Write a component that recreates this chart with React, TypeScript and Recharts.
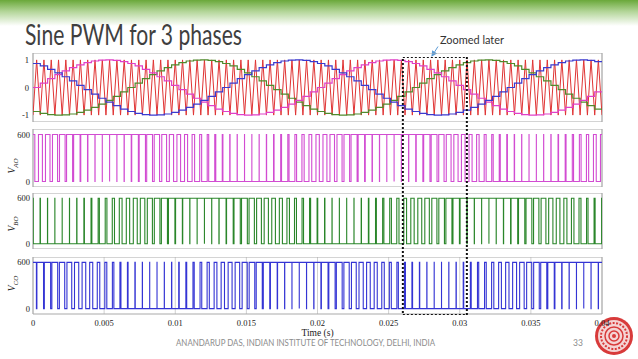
import React from 'react';
import { LineChart, Line, XAxis, YAxis, CartesianGrid, ReferenceArea } from 'recharts';

// ---- data ----
const timeTicks = [0, 0.005, 0.01, 0.015, 0.02, 0.025, 0.03, 0.035, 0.04];
const timeTickLabels = ['0', '0.005', '0.01', '0.015', '0.02', '0.025', '0.03', '0.035', '0.04'];
const refTicks = [-1, 0, 1];
const refTickLabels = ['-1', '0', '1'];
const voltTicks = [0, 600];
const voltTickLabels = ['0', '600'];

const fundamentalPeriod = 0.02; // s
const displayedCycles = 2;
const carrierRatio = 39; // carrier periods per fundamental period
const dcLink = 600;
const zoomWindow = [0.026, 0.0305];

// sampled (staircase) references, one value per carrier period, one fundamental cycle
const phaseASamples = [0.0, 0.16, 0.32, 0.47, 0.6, 0.72, 0.82, 0.9, 0.96, 0.99, 1.0, 0.98, 0.94, 0.87, 0.78, 0.66, 0.53, 0.39, 0.24, 0.08, -0.08, -0.24, -0.39, -0.53, -0.66, -0.78, -0.87, -0.94, -0.98, -1.0, -0.99, -0.96, -0.9, -0.82, -0.72, -0.6, -0.47, -0.32, -0.16];
const phaseBSamples = [-0.87, -0.94, -0.98, -1.0, -0.99, -0.96, -0.9, -0.82, -0.72, -0.6, -0.47, -0.32, -0.16, 0.0, 0.16, 0.32, 0.47, 0.6, 0.72, 0.82, 0.9, 0.96, 0.99, 1.0, 0.98, 0.94, 0.87, 0.78, 0.66, 0.53, 0.39, 0.24, 0.08, -0.08, -0.24, -0.39, -0.53, -0.66, -0.78];
const phaseCSamples = [0.87, 0.78, 0.66, 0.53, 0.39, 0.24, 0.08, -0.08, -0.24, -0.39, -0.53, -0.66, -0.78, -0.87, -0.94, -0.98, -1.0, -0.99, -0.96, -0.9, -0.82, -0.72, -0.6, -0.47, -0.32, -0.16, 0.0, 0.16, 0.32, 0.47, 0.6, 0.72, 0.82, 0.9, 0.96, 0.99, 1.0, 0.98, 0.94];

// ---- tables built from the arrays ----
const Tc = fundamentalPeriod / carrierRatio;
const nPeriods = carrierRatio * displayedCycles;

const carrierData = Array.from({ length: 2 * nPeriods + 1 }, (_, j) => ({ t: (j * Tc) / 2, v: j % 2 === 0 ? -1 : 1 }));

const stairData = (s: number[]) => {
  const out = [] as { t: number; v: number }[];
  for (let k = 0; k < nPeriods; k++) out.push({ t: k * Tc, v: s[k % s.length] });
  out.push({ t: nPeriods * Tc, v: s[(nPeriods - 1) % s.length] });
  return out;
};

const pwmData = (s: number[]) => {
  const out = [] as { t: number; v: number }[];
  for (let k = 0; k < nPeriods; k++) {
    const m = s[k % s.length];
    const a = ((m + 1) / 4) * Tc;
    const t0 = k * Tc;
    out.push({ t: t0, v: dcLink });
    out.push({ t: t0 + a, v: dcLink });
    out.push({ t: t0 + a, v: 0 });
    out.push({ t: t0 + Tc - a, v: 0 });
    out.push({ t: t0 + Tc - a, v: dcLink });
  }
  out.push({ t: nPeriods * Tc, v: dcLink });
  return out;
};

const refA = stairData(phaseASamples);
const refB = stairData(phaseBSamples);
const refC = stairData(phaseCSamples);
const vAO = pwmData(phaseASamples);
const vBO = pwmData(phaseBSamples);
const vCO = pwmData(phaseCSamples);
const frameData = [{ t: 0, v: 0 }, { t: 0.04, v: 1 }];

const W = 638;
const MARGIN = { top: 0, right: 36, bottom: 0, left: 0 };
const serif = '"Liberation Serif", "DejaVu Serif", serif';
const tickStyle = { fontSize: 8.5, fontFamily: serif, fill: '#222' };
const gridColor = '#c4c4c4';
const frameColor = '#a9a9a9';

const fmtTime = (v: number) => timeTickLabels[timeTicks.indexOf(v)] ?? String(v);
const fmtRef = (v: number) => refTickLabels[refTicks.indexOf(v)] ?? String(v);
const fmtVolt = (v: number) => voltTickLabels[voltTicks.indexOf(v)] ?? String(v);

const makeYLabel = (sub: string, centerOffset: number) => (props: any) => {
  const vb = props.viewBox || { x: 0, y: 0, width: 0, height: 0 };
  const bx = 15;
  const by = vb.y + vb.height / 2 + centerOffset;
  return (
    <text transform={`translate(${bx},${by}) rotate(-90)`} textAnchor="middle" fontFamily={serif} fontStyle="italic" fill="#222">
      <tspan fontSize={9.5}>V</tspan>
      <tspan fontSize={7} dy={3}>{sub}</tspan>
    </text>
  );
};

function PwmPanel({ data, color, sub, top, plotH, labelOffset, showX }: any) {
  const xH = showX ? 34 : 0;
  const h = plotH + xH;
  const dom = [-70, 670];
  return (
    <div style={{ position: 'absolute', left: 0, top }}>
      <LineChart width={W} height={h} data={data} margin={MARGIN}>
        <CartesianGrid stroke={gridColor} strokeWidth={0.8} horizontal={false} />
        <ReferenceArea x1={0} x2={0.04} y1={dom[0]} y2={dom[1]} fill="none" stroke={frameColor} strokeWidth={1} />
        <XAxis
          dataKey="t"
          type="number"
          domain={[0, 0.04]}
          ticks={timeTicks}
          allowDataOverflow
          tickFormatter={fmtTime}
          tick={showX ? tickStyle : false}
          tickLine={false}
          axisLine={false}
          tickSize={0}
          tickMargin={6}
          height={xH}
          label={showX ? { value: 'Time (s)', position: 'insideBottom', offset: 12, style: { fontFamily: serif, fontSize: 9.5, fill: '#222' } } : undefined}
        />
        <YAxis
          type="number"
          domain={dom}
          ticks={voltTicks}
          tickFormatter={fmtVolt}
          tick={tickStyle}
          tickLine={false}
          axisLine={false}
          tickSize={0}
          tickMargin={3}
          width={33}
          allowDataOverflow
          label={makeYLabel(sub, labelOffset)}
        />
        <Line dataKey="v" type="linear" stroke={color} strokeWidth={1.1} dot={false} isAnimationActive={false} />
      </LineChart>
    </div>
  );
}

export default function App() {
  return (
    <div style={{ position: 'absolute', left: 0, top: 0, width: W, height: 359, background: '#fff', overflow: 'hidden' }}>
      <svg width={W} height={359} style={{ position: 'absolute', left: 0, top: 0 }}>
        <defs>
          <linearGradient id="band" x1="0" y1="0" x2="0" y2="1">
            <stop offset="0" stopColor="#6aa83a" />
            <stop offset="0.45" stopColor="#b4d69a" />
            <stop offset="1" stopColor="#ffffff" />
          </linearGradient>
          <marker id="arr" markerWidth="6" markerHeight="6" refX="5" refY="3" orient="auto">
            <path d="M0,0 L6,3 L0,6 z" fill="#5b9bd5" />
          </marker>
        </defs>
        <rect x={0} y={0} width={W} height={26} fill="url(#band)" />
        <text x={25} y={45} fontFamily="Lato, 'Open Sans', sans-serif" fontSize={28} fill="#3f3f3f" textLength={217} lengthAdjust="spacingAndGlyphs">
          Sine PWM for 3 phases
        </text>
        <text x={440} y={44} fontFamily="Lato, 'Open Sans', sans-serif" fontSize={11.5} fill="#333" textLength={64} lengthAdjust="spacingAndGlyphs">
          Zoomed later
        </text>
        <line x1={438} y1={46.5} x2={432} y2={56} stroke="#5b9bd5" strokeWidth={1} markerEnd="url(#arr)" />
        <text x={176} y={346} fontFamily="Lato, 'Open Sans', sans-serif" fontSize={8.5} fill="#8c8c8c" textLength={259} lengthAdjust="spacingAndGlyphs">
          ANANDARUP DAS, INDIAN INSTITUTE OF TECHNOLOGY, DELHI, INDIA
        </text>
        <text x={573} y={346} fontFamily="Lato, 'Open Sans', sans-serif" fontSize={8.5} fill="#8c8c8c">
          33
        </text>
        <g>
          <circle cx={614} cy={336} r={19} fill="#d83a3a" />
          <circle cx={614} cy={336} r={16} fill="#f4d4d4" />
          <circle cx={614} cy={336} r={13} fill="none" stroke="#d83a3a" strokeWidth={2} strokeDasharray="2 1.5" />
          <circle cx={614} cy={336} r={9} fill="none" stroke="#d83a3a" strokeWidth={1.5} />
          <circle cx={614} cy={336} r={5} fill="none" stroke="#d83a3a" strokeWidth={1.5} />
          <circle cx={614} cy={336} r={2} fill="#d83a3a" />
        </g>
      </svg>

      {/* reference / carrier panel */}
      <div style={{ position: 'absolute', left: 0, top: 53 }}>
        <LineChart width={W} height={69} margin={MARGIN}>
          <CartesianGrid stroke={gridColor} strokeWidth={0.8} horizontal={false} />
          <ReferenceArea x1={0} x2={0.04} y1={-1.25} y2={1.25} fill="none" stroke={frameColor} strokeWidth={1} />
          <XAxis dataKey="t" type="number" domain={[0, 0.04]} ticks={timeTicks} allowDataOverflow tick={false} tickLine={false} axisLine={false} height={0} />
          <YAxis type="number" domain={[-1.25, 1.25]} ticks={refTicks} tickFormatter={fmtRef} tick={tickStyle} tickLine={false} axisLine={false} tickSize={0} tickMargin={4} width={33} allowDataOverflow />
          <Line data={carrierData} dataKey="v" type="linear" stroke="#e03434" strokeWidth={1} dot={false} isAnimationActive={false} />
          <Line data={refB} dataKey="v" type="stepAfter" stroke="#4f8a2c" strokeWidth={1.2} dot={false} isAnimationActive={false} />
          <Line data={refA} dataKey="v" type="stepAfter" stroke="#e040c8" strokeWidth={1.2} dot={false} isAnimationActive={false} />
          <Line data={refC} dataKey="v" type="stepAfter" stroke="#3a3ad0" strokeWidth={1.2} dot={false} isAnimationActive={false} />
        </LineChart>
      </div>

      <PwmPanel data={vAO} color="#d24cd2" sub="AO" top={129} plotH={58} labelOffset={8} />
      <PwmPanel data={vBO} color="#2a862a" sub="BO" top={193} plotH={56} labelOffset={3} />
      <PwmPanel data={vCO} color="#3434d4" sub="CO" top={257} plotH={57} labelOffset={-2} showX />

      {/* dotted zoom window */}
      <div style={{ position: 'absolute', left: 0, top: 57 }}>
        <LineChart width={W} height={258} data={frameData} margin={{ top: 0, right: 36, bottom: 0, left: 0 }}>
          <XAxis dataKey="t" type="number" domain={[0, 0.04]} tick={false} tickLine={false} axisLine={false} height={0} />
          <YAxis type="number" domain={[0, 1]} tick={false} tickLine={false} axisLine={false} width={33} />
          <Line dataKey="v" stroke="none" dot={false} isAnimationActive={false} />
          <ReferenceArea x1={zoomWindow[0]} x2={zoomWindow[1]} y1={0} y2={1} fill="none" fillOpacity={0} stroke="#111" strokeWidth={2} strokeDasharray="2 2" ifOverflow="visible" />
        </LineChart>
      </div>
    </div>
  );
}
